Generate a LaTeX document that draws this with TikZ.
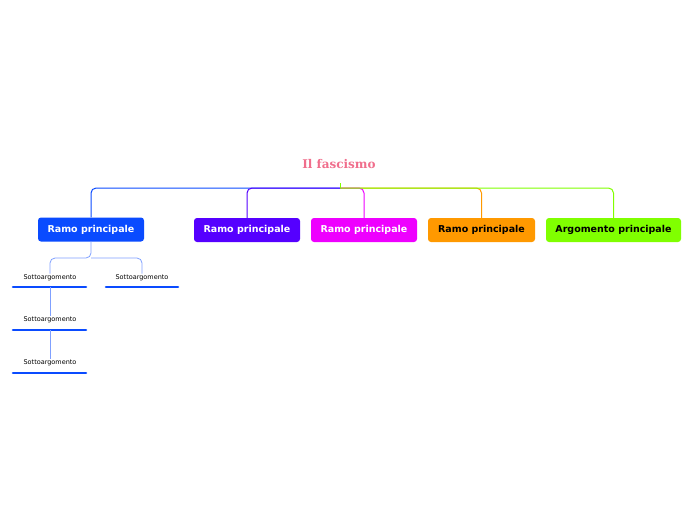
\documentclass[tikz,border=0pt]{standalone}
\usepackage{fontspec}
\setmainfont{DejaVu Sans}
\newfontfamily\titlefont{DejaVu Serif}
\definecolor{cblue}{HTML}{0A4BFF}
\definecolor{cpurple}{HTML}{5500FF}
\definecolor{cmag}{HTML}{EE00FF}
\definecolor{corange}{HTML}{FF9900}
\definecolor{cgreen}{HTML}{80FF00}
\definecolor{cpink}{HTML}{F06E8C}
\definecolor{clight}{HTML}{7FA0FF}
\begin{document}
\begin{tikzpicture}[x=1pt,y=-1pt,
  mainbox/.style={rounded corners=3pt,minimum width=106pt,minimum height=24pt,font=\bfseries\fontsize{9.5}{11}\selectfont,inner sep=2pt},
  sub/.style={font=\fontsize{6.5}{8}\selectfont,inner sep=1pt},
  uline/.style={line width=2.6pt,cblue,line cap=round},
  conn/.style={line width=1pt,rounded corners=5pt}]
\useasboundingbox (0,0) rectangle (696,520);
\node[font=\titlefont\bfseries\fontsize{12}{14}\selectfont,text=cpink] (root) at (339,164) {Il fascismo};
\coordinate (j) at (340,188);
\node[mainbox,fill=cblue,text=white] (b1) at (91,229.5) {Ramo principale};
\node[mainbox,fill=cpurple,text=white] (b2) at (247,230) {Ramo principale};
\node[mainbox,fill=cmag,text=white] (b3) at (364,230) {Ramo principale};
\node[mainbox,fill=corange,text=black,minimum width=107pt] (b4) at (481.5,230) {Ramo principale};
\node[mainbox,fill=cgreen,text=black,minimum width=135pt] (b5) at (613.5,230) {Argomento principale};
\draw[conn,cblue] (j) -| (b1.north);
\draw[conn,corange] (j) -| (b4.north);
\draw[conn,cmag] (j) -| (b3.north);
\draw[conn,cgreen] (j) -| (b5.north);
\draw[conn,cpurple] (j) -| (b2.north);
\draw[line width=1pt,cgreen] (340,183) -- (j);
% subtopics
\node[sub] (s1) at (50,278) {Sottoargomento};
\node[sub] (s2) at (142,278) {Sottoargomento};
\node[sub] (s3) at (50,320) {Sottoargomento};
\node[sub] (s4) at (50,363) {Sottoargomento};
\draw[uline] (13,287) coordinate (u1a) -- (86,287) coordinate (u1b);
\draw[uline] (106,287) -- (178,287);
\draw[uline] (13,330) coordinate (u3a) -- (86,330);
\draw[uline] (13,373) -- (86,373);
\coordinate (u1) at (50,287);
\coordinate (u3) at (50,330);
\draw[conn,clight,line width=0.8pt] (b1.south) -- (91,258) -| (s1.north);
\draw[conn,clight,line width=0.8pt] (91,258) -| (s2.north);
\draw[clight,line width=0.8pt] (u1) -- (s3.north);
\draw[clight,line width=0.8pt] (u3) -- (s4.north);
\end{tikzpicture}
\end{document}
